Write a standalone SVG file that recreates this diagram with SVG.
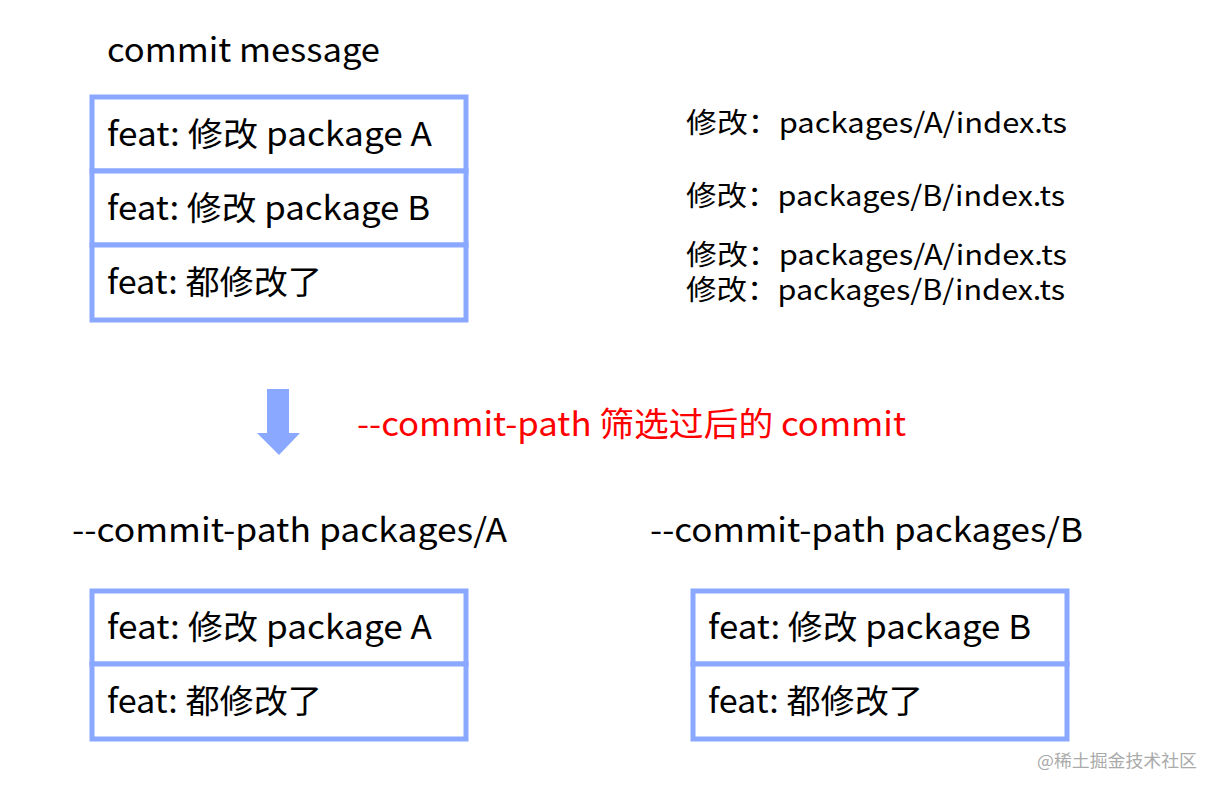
<svg xmlns="http://www.w3.org/2000/svg" width="1220" height="793" viewBox="0 0 1220 793">
<style>
text{font-family:"Noto Sans CJK SC","Noto Sans",sans-serif;fill:#000}
.b{fill:#fff;stroke:#8AA8FF;stroke-width:5}
.t{font-size:33px}
.s{font-size:28px}
.h{font-size:33px}
</style>
<rect width="1220" height="793" fill="#fff"/>
<text class="h" x="107" y="62" textLength="273" lengthAdjust="spacingAndGlyphs">commit message</text>
<g id="top">
<rect class="b" x="92" y="97" width="374" height="74"/>
<rect class="b" x="92" y="171" width="374" height="74"/>
<rect class="b" x="92" y="245" width="374" height="75"/>
<text class="t" x="107" y="146" textLength="325" lengthAdjust="spacingAndGlyphs">feat: 修改 package A</text>
<text class="t" x="107" y="220" textLength="323" lengthAdjust="spacingAndGlyphs">feat: 修改 package B</text>
<text class="t" x="107" y="294" textLength="215" lengthAdjust="spacingAndGlyphs">feat: 都修改了</text>
</g>
<g id="files">
<text class="s" x="686" y="133" textLength="381" lengthAdjust="spacingAndGlyphs">修改：packages/A/index.ts</text>
<text class="s" x="686" y="206" textLength="379" lengthAdjust="spacingAndGlyphs">修改：packages/B/index.ts</text>
<text class="s" x="686" y="265" textLength="381" lengthAdjust="spacingAndGlyphs">修改：packages/A/index.ts</text>
<text class="s" x="686" y="300" textLength="379" lengthAdjust="spacingAndGlyphs">修改：packages/B/index.ts</text>
</g>
<g id="connectors">
<polygon points="267,389 289,389 289,433 300,433 279,455 257,433 267,433" fill="#8AA8FF"/>
<text x="357" y="436" font-size="33" style="fill:#f00" textLength="549" lengthAdjust="spacingAndGlyphs">--commit-path 筛选过后的 commit</text>
</g>
<text class="h" x="72" y="542" textLength="435" lengthAdjust="spacingAndGlyphs">--commit-path packages/A</text>
<text class="h" x="650" y="542" textLength="433" lengthAdjust="spacingAndGlyphs">--commit-path packages/B</text>
<g id="boxA">
<rect class="b" x="92" y="591" width="374" height="73"/>
<rect class="b" x="92" y="664" width="374" height="75"/>
<text class="t" x="107" y="639" textLength="325" lengthAdjust="spacingAndGlyphs">feat: 修改 package A</text>
<text class="t" x="107" y="713" textLength="215" lengthAdjust="spacingAndGlyphs">feat: 都修改了</text>
</g>
<g id="boxB">
<rect class="b" x="693" y="591" width="374" height="73"/>
<rect class="b" x="693" y="664" width="374" height="75"/>
<text class="t" x="708" y="639" textLength="323" lengthAdjust="spacingAndGlyphs">feat: 修改 package B</text>
<text class="t" x="708" y="713" textLength="215" lengthAdjust="spacingAndGlyphs">feat: 都修改了</text>
</g>
<text x="1037" y="767" font-size="17" style="fill:#aaa" textLength="160" lengthAdjust="spacingAndGlyphs">@稀土掘金技术社区</text>
</svg>
